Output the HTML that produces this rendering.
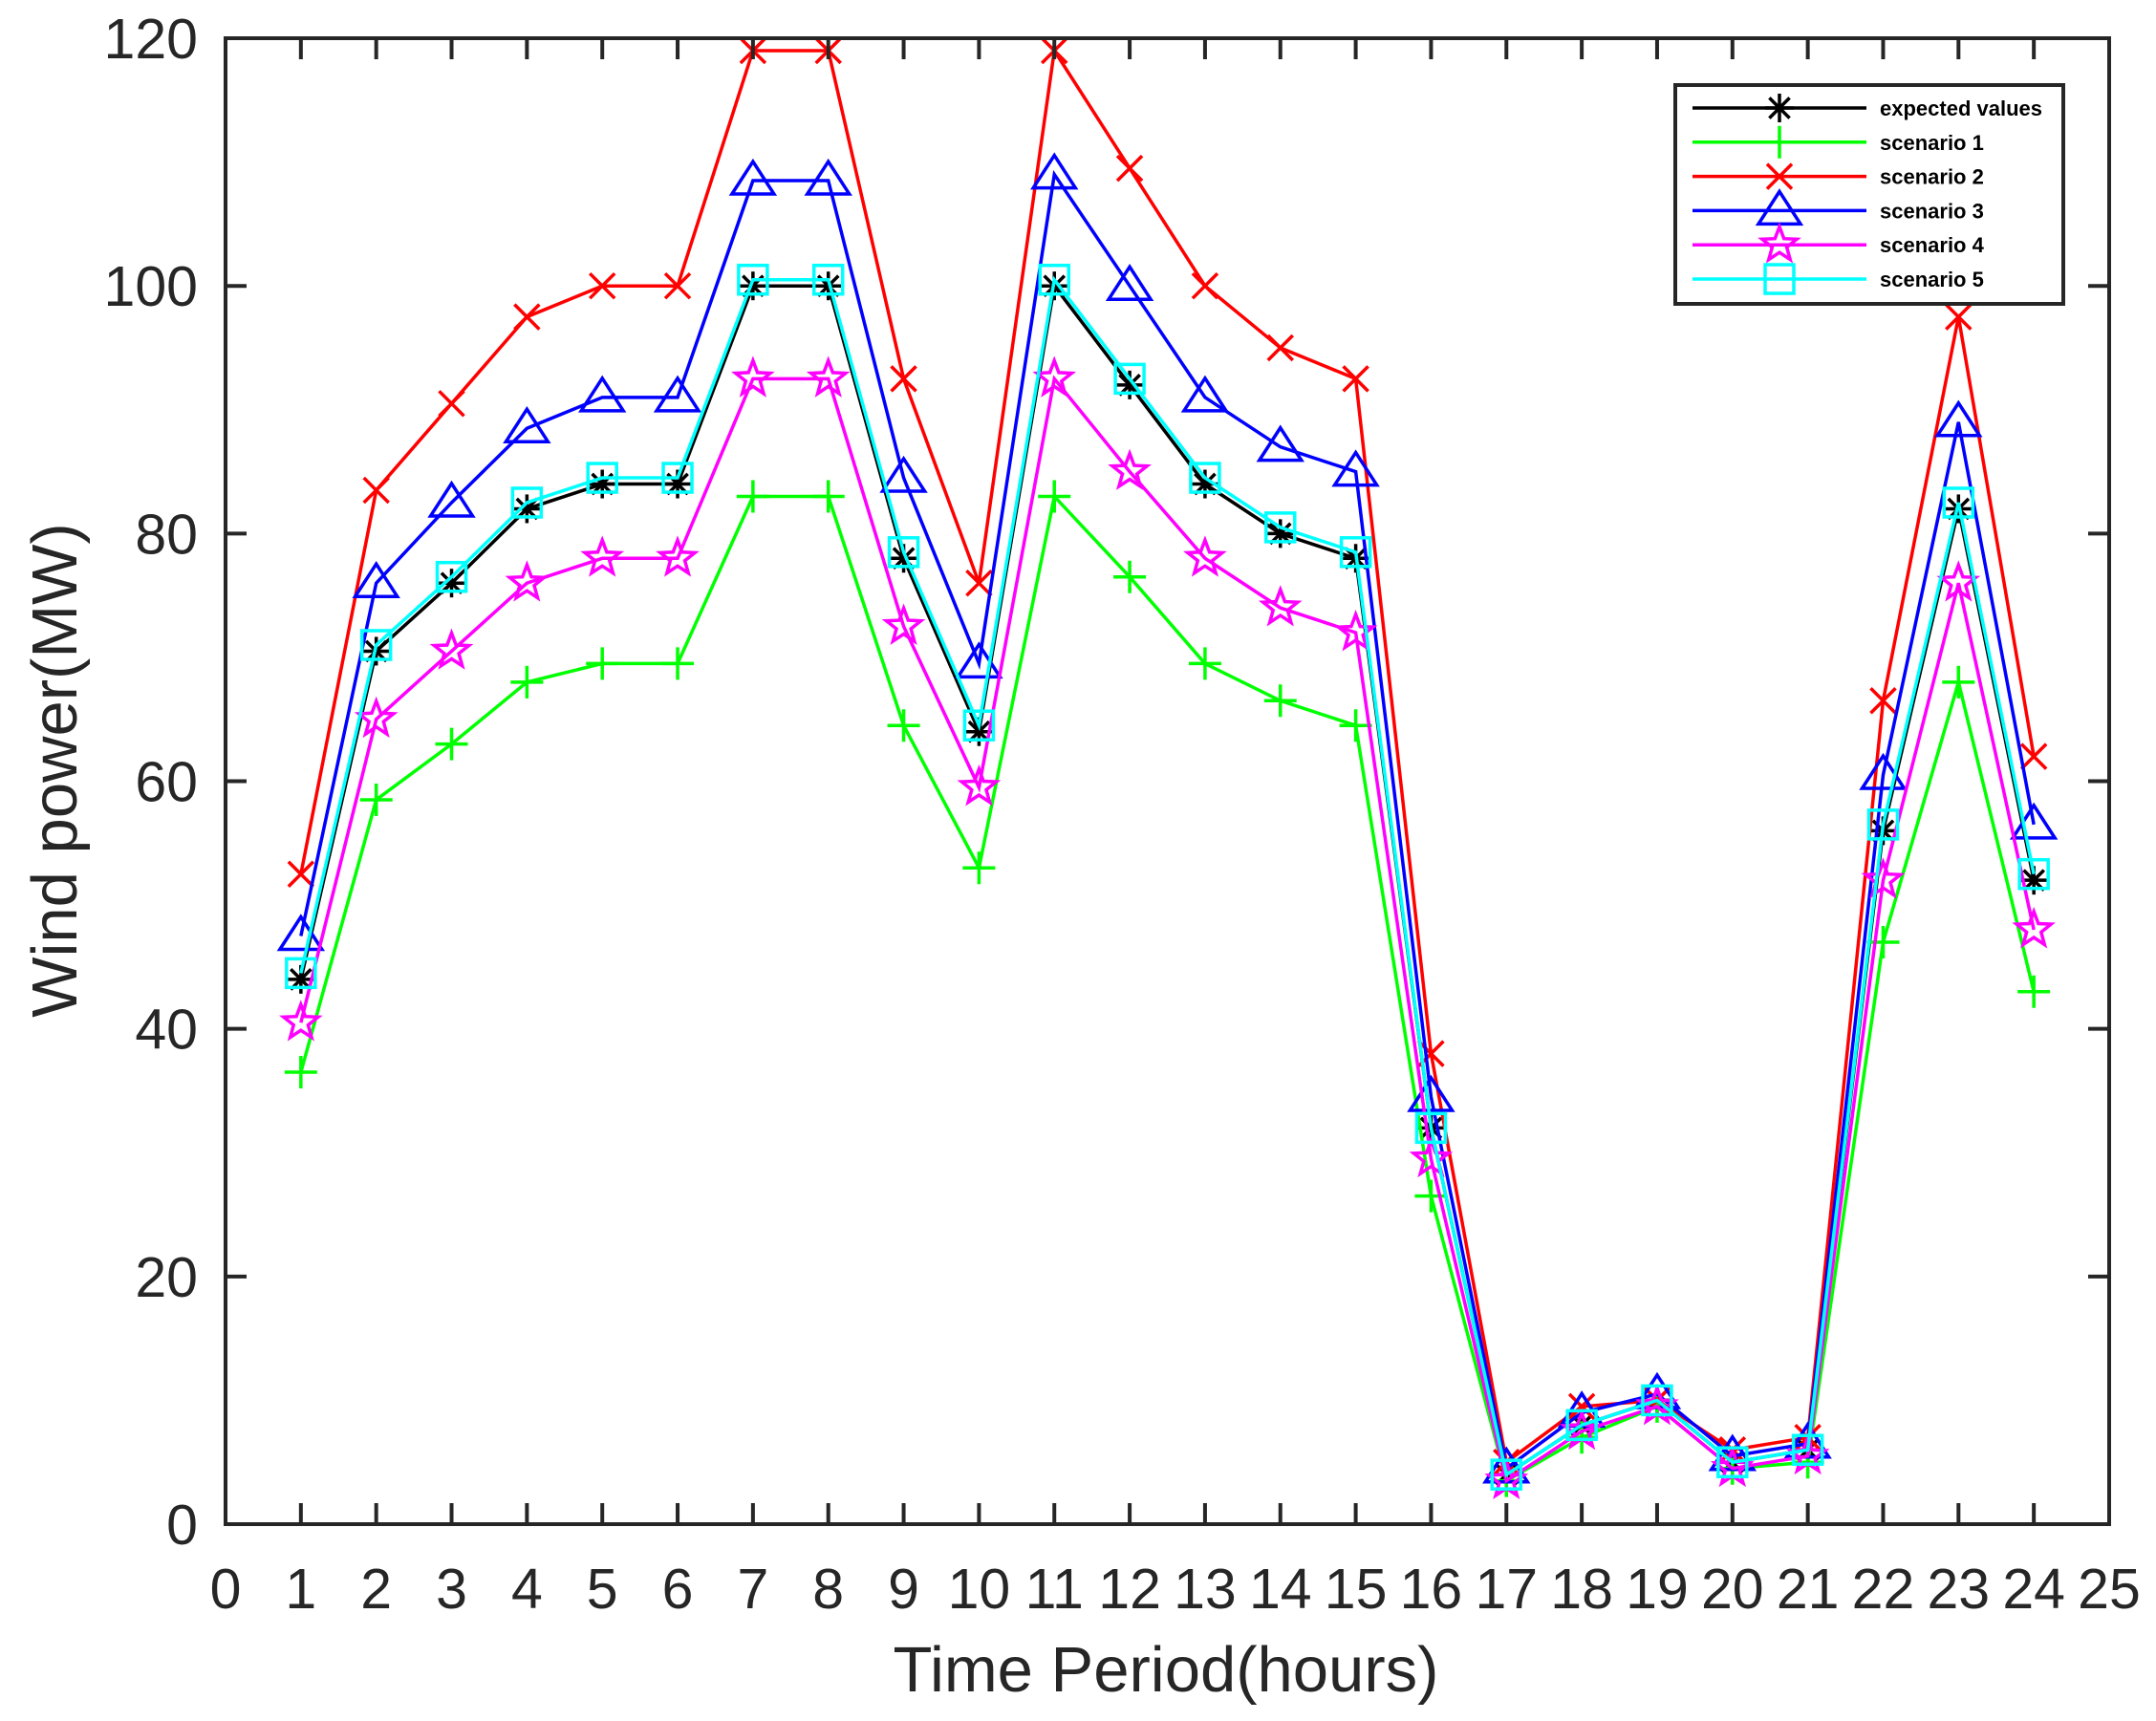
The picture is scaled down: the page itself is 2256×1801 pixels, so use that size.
<!DOCTYPE html>
<html><head><meta charset="utf-8"><style>html,body{margin:0;padding:0;background:#fff}svg{display:block}</style></head>
<body>
<svg id="s" width="2256" height="1801" xmlns="http://www.w3.org/2000/svg" font-family="Liberation Sans, Arial, sans-serif">
<rect width="2256" height="1801" fill="#fff"/>
<g id="plot"></g>
<rect x="236" y="40" width="1971" height="1555" fill="none" stroke="#262626" stroke-width="4"/>
<g id="ticks" stroke="#262626" stroke-width="4"></g>
<g id="labels" fill="#262626" font-size="59"></g>
<text x="1220" y="1770" text-anchor="middle" font-size="67" fill="#262626">Time Period(hours)</text>
<text transform="translate(80,806) rotate(-90)" text-anchor="middle" font-size="67" fill="#262626">Wind power(MW)</text>
<rect x="1753" y="89" width="406" height="229" fill="#fff" stroke="#262626" stroke-width="4"/>
<g id="legend"></g>
</svg>
<script>
const X=x=>236+x*78.84, Y=v=>1595-v*12.958;
const NS="http://www.w3.org/2000/svg";
function el(p,t,a){const e=document.createElementNS(NS,t);for(const k in a)e.setAttribute(k,a[k]);p.appendChild(e);return e;}
const series=[
["#000","star",[44,70.5,76,82,84,84,100,100,78,64,100,92,84,80,78,32,4,8,10,5,6,56,82,52],"expected values"],
["#00ff00","plus",[36.5,58.5,63,68,69.5,69.5,83,83,64.5,53,83,76.5,69.5,66.5,64.5,26.5,3.5,7,9.5,4.5,5,47,68,43],"scenario 1"],
["#ff0000","x",[52.5,83.5,90.5,97.5,100,100,119,119,92.5,76,119,109.5,100,95,92.5,38,5,9.5,10,6,7,66.5,97.5,62],"scenario 2"],
["#0000ff","tri",[47.5,76,82.5,88.5,91,91,108.5,108.5,84.5,69.5,109,100,91,87,85,34.5,4.5,9,10.5,5.5,6.5,60.5,89,56.5],"scenario 3"],
["#ff00ff","pent",[40.5,65,70.5,76,78,78,92.5,92.5,72.5,59.5,92.5,85,78,74,72,29.5,3.5,7.5,9.5,4.5,5.5,52,76,48],"scenario 4"],
["#00ffff","sq",[44.5,71,76.5,82.5,84.5,84.5,100.5,100.5,78.5,64.5,100.5,92.5,84.5,80.5,78.5,32,4,8,10,5,6,56.5,82.5,52.5],"scenario 5"]];
function marker(g,type,x,y,c){
 const a={stroke:c,"stroke-width":3.5,fill:"none"};
 if(type=="star"){for(const t of [0,45,90,135]){const r=t*Math.PI/180,d=15;el(g,"line",Object.assign({x1:x-d*Math.cos(r),y1:y-d*Math.sin(r),x2:x+d*Math.cos(r),y2:y+d*Math.sin(r)},a));}}
 else if(type=="plus"){el(g,"path",Object.assign({d:`M${x-17} ${y}H${x+17}M${x} ${y-17}V${y+17}`},a));}
 else if(type=="x"){el(g,"path",Object.assign({d:`M${x-13} ${y-13}L${x+13} ${y+13}M${x-13} ${y+13}L${x+13} ${y-13}`},a));}
 else if(type=="tri"){el(g,"path",Object.assign({d:`M${x} ${y-20}L${x+22} ${y+14}L${x-22} ${y+14}Z`},a));}
 else if(type=="sq"){el(g,"rect",Object.assign({x:x-15,y:y-15,width:30,height:30},a));}
 else if(type=="pent"){let p=[];for(let i=0;i<10;i++){const r=(i%2?8:19),an=-Math.PI/2+i*Math.PI/5;p.push((x+r*Math.cos(an)).toFixed(1)+","+(y+r*Math.sin(an)).toFixed(1));}el(g,"polygon",Object.assign({points:p.join(" ")},a));}
}
const pl=document.getElementById("plot");
for(const [c,m,d] of series){
 el(pl,"polyline",{points:d.map((v,i)=>X(i+1)+","+Y(v)).join(" "),fill:"none",stroke:c,"stroke-width":3.5});
 d.forEach((v,i)=>marker(pl,m,X(i+1),Y(v),c));
}
const tk=document.getElementById("ticks"),lb=document.getElementById("labels");
for(let i=0;i<=25;i++){const x=X(i);
 if(i>0&&i<25){el(tk,"line",{x1:x,y1:1595,x2:x,y2:1573});el(tk,"line",{x1:x,y1:40,x2:x,y2:62});}
 const t=el(lb,"text",{x:x,y:1683,"text-anchor":"middle"});t.textContent=i;}
for(let v=0;v<=120;v+=20){const y=Y(v);
 if(v>0&&v<120){el(tk,"line",{x1:236,y1:y,x2:258,y2:y});el(tk,"line",{x1:2207,y1:y,x2:2185,y2:y});}
 const t=el(lb,"text",{x:207,y:y+21,"text-anchor":"end"});t.textContent=v;}
const lg=document.getElementById("legend");
series.forEach(([c,m,d,n],i)=>{const y=113+i*35.8;
 el(lg,"line",{x1:1771,y1:y,x2:1953,y2:y,stroke:c,"stroke-width":3.5});
 marker(lg,m,1862,y,c);
 const t=el(lg,"text",{x:1967,y:y+8,"font-size":22,"font-weight":"bold",fill:"#000"});t.textContent=n;});
</script>
</body></html>
